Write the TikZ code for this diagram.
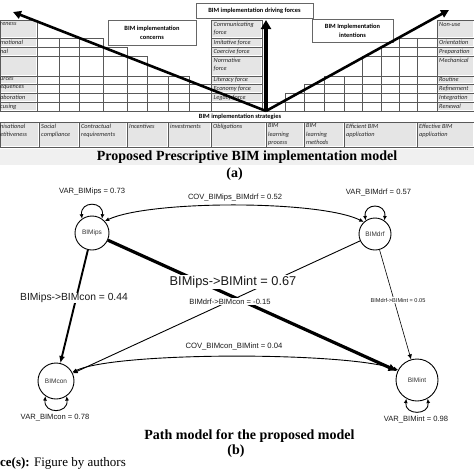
\documentclass[tikz,border=0pt]{standalone}
\usepackage{fontspec}
\setmainfont{Liberation Serif}
\newfontfamily\tabfont{Carlito}
\newfontfamily\pathfont{Liberation Sans}
\usetikzlibrary{arrows.meta}
\begin{document}
\begin{tikzpicture}[x=1pt,y=-1pt,
  gridline/.style={draw=black!65,line width=0.5pt},
  labelfill/.style={fill=black!10},
  celltext/.style={anchor=north west,inner sep=0pt,align=left,
    font=\tabfont\itshape\fontsize{6.3}{8.4}\selectfont,text=black!85},
  headbox/.style={draw=black!60,fill=white,line width=0.6pt,align=center,inner sep=1pt,
    font=\tabfont\bfseries\fontsize{6.4}{8.6}\selectfont},
  bigarrow/.style={line width=2.6pt,-{Triangle[length=8pt,width=8pt]}},
  caption/.style={font=\bfseries\fontsize{14}{16}\selectfont,inner sep=0pt},
  latent/.style={circle,draw,line width=0.9pt,inner sep=0pt,fill=white,
    font=\pathfont\fontsize{6.5}{7}\selectfont,text=black!80},
  plabel/.style={inner sep=0.6pt,text=black!90},
  tip/.style={-{Latex[length=5pt,width=4.5pt]}},
  dbltip/.style={{Latex[length=4.5pt,width=4pt]}-{Latex[length=4.5pt,width=4pt]}},
]
\useasboundingbox (0,0) rectangle (474,474);

% ---------- (a) prescriptive implementation model ----------
% label columns: concerns (left), driving forces (middle), intentions (right)
\foreach \xa/\xb in {0/37,437/474}{
  \foreach \ya/\yb in {20/38,38/47,47/56,56/76,76/84,84/93,93/102,102/111}{
    \fill[labelfill] (\xa+0.8,\ya+0.8) rectangle (\xb-0.8,\yb-0.8);
    \draw[gridline] (\xa,\ya) rectangle (\xb,\yb);
  }
}
\foreach \ya/\yb in {20/38,38/47,47/56,56/76,76/84,84/93,93/102}{
  \fill[labelfill] (211.8,\ya+0.8) rectangle (261.2,\yb-0.8);
  \draw[gridline] (211,\ya) rectangle (262,\yb);
}
\draw[gridline] (211,102) rectangle (262,111);

% staircase grid below the concerns arrow
\foreach \xa/\xb/\tp in {37/59/38,59/79/38,79/103/38,103/127/47,127/147/56,147/168/76,168/189/76,189/211/84}{
  \draw[gridline] (\xa,\tp) rectangle (\xb,111);
  \foreach \rw in {47,56,76,84,93,102}{
    \ifnum\rw>\tp \draw[gridline] (\xa,\rw) -- (\xb,\rw);\fi
  }
}
% staircase grid below the intentions arrow
\foreach \xa/\xb/\tp in {262/285/102,285/304/93,304/324/84,324/344/76,344/362/76,362/381/56,381/399/47,399/417/38,417/437/38}{
  \draw[gridline] (\xa,\tp) rectangle (\xb,111);
  \foreach \rw in {47,56,76,84,93,102}{
    \ifnum\rw>\tp \draw[gridline] (\xa,\rw) -- (\xb,\rw);\fi
  }
}

% concerns texts
\node[celltext] (c0) at (0,22) {reness};
\node[celltext] (c1) at (0,39.6) {motional};
\node[celltext] (c2) at (0,48.6) {nal};
\node[celltext] (c4) at (0,77.4) {urces};
\node[celltext] (c5) at (0,85.6) {equences};
\node[celltext] (c6) at (0,94.6) {aboration};
\node[celltext] (c7) at (0,103.6) {cusing};
% driving force texts
\node[celltext] (d0) at (213.5,21.5) {Communicating\\force};
\node[celltext] (d1) at (213.5,39.6) {Imitative force};
\node[celltext] (d2) at (213.5,48.6) {Coercive force};
\node[celltext] (d3) at (213.5,57.8) {Normative\\force};
\node[celltext] (d4) at (213.5,77.4) {Literacy force};
\node[celltext] (d5) at (213.5,85.6) {Economy force};
\node[celltext] (d6) at (213.5,94.6) {Legacy force};
% intention texts
\node[celltext] (i0) at (439,22) {Non-use};
\node[celltext] (i1) at (439,39.6) {Orientation};
\node[celltext] (i2) at (439,48.6) {Preparation};
\node[celltext] (i3) at (439,57.8) {Mechanical};
\node[celltext] (i4) at (439,77.4) {Routine};
\node[celltext] (i5) at (439,85.6) {Refinement};
\node[celltext] (i6) at (439,94.6) {Integration};
\node[celltext] (i7) at (439,103.6) {Renewal};

% strategies bar and cells
\draw[gridline] (0,111) -- (474,111);
\foreach \xa/\xb in {0/39,39/79,79/127,127/168,168/211,211/266,266/304,304/344,344/417,417/474}{
  \fill[labelfill] (\xa+0.8,122.8) rectangle (\xb-0.8,146.2);
  \draw[gridline] (\xa,122) rectangle (\xb,147);
}
\node[font=\tabfont\bfseries\fontsize{6.4}{7}\selectfont,inner sep=0pt] (strat) at (240,116.5) {BIM implementation strategies};
\node[celltext] (s1) at (0,123.5) {nisational\\etitiveness};
\node[celltext] (s2) at (41,123.5) {Social\\compliance};
\node[celltext] (s3) at (81,123.5) {Contractual\\requirements};
\node[celltext] (s4) at (129,123.5) {Incentives};
\node[celltext] (s5) at (170,123.5) {investments};
\node[celltext] (s6) at (213,123.5) {Obligations};
\node[celltext] (s7) at (268,123.5) {BIM\\learning\\process};
\node[celltext] (s8) at (306,123.5) {BIM\\learning\\methods};
\node[celltext] (s9) at (346,123.5) {Efficient BIM\\application};
\node[celltext] (s10) at (419,123.5) {Effective BIM\\application};

% header boxes
\node[headbox,minimum width=117pt,minimum height=15pt] (hdf) at (254.5,10.5) {BIM implementation driving forces};
\node[headbox,minimum width=88pt,minimum height=25pt] (hcon) at (152,32.5) {BIM implementation\\concerns};
\node[headbox,minimum width=81pt,minimum height=23pt] (hint) at (352.5,30.5) {BIM Implementation\\intentions};

% the three arrows from the strategies
\coordinate (vtx) at (266,111);
\coordinate (tipL) at (13,12);
\coordinate (tipR) at (449,10);
\coordinate (tipU) at (266,20);
\draw[bigarrow] (vtx) -- (tipL);
\draw[bigarrow] (vtx) -- (tipR);
\draw[bigarrow,line width=4.2pt,-{Triangle[length=9pt,width=10pt]}] (vtx) -- (tipU);

% caption (a)
\fill[black!6] (0,149) rectangle (474,165);
\node[caption] (capa) at (247,157) {Proposed Prescriptive BIM implementation model};
\node[caption] (laba) at (234.5,174) {(a)};

% ---------- (b) path model ----------
\node[latent,minimum size=34pt] (ips) at (92,233) {BIMips};
\node[latent,minimum size=32pt] (drf) at (375,234) {BIMdrf};
\node[latent,minimum size=36pt] (con) at (56,381) {BIMcon};
\node[latent,minimum size=42pt] (int) at (417,380) {BIMint};

% variances
\draw[dbltip,line width=0.9pt] (ips.125) .. controls +(-2,-18) and +(2,-18) .. (ips.55);
\draw[dbltip,line width=0.9pt] (drf.125) .. controls +(-2,-18) and +(2,-18) .. (drf.55);
\draw[dbltip,line width=0.9pt] (con.235) .. controls +(-2,18) and +(2,18) .. (con.305);
\draw[dbltip,line width=0.9pt] (int.240) .. controls +(-2,17) and +(2,17) .. (int.300);

% covariances
\draw[dbltip,line width=0.9pt] (ips.43) .. controls (150,200) and (320,200) .. (drf.133);
\draw[dbltip,line width=0.9pt] (con.28) .. controls (115,351.6) and (345,351.6) .. (int.152);

% regression paths
\draw[line width=3.2pt,-{Latex[length=9pt,width=8pt]}] (ips) -- (int);
\draw[line width=1.9pt,-{Latex[length=7pt,width=6pt]}] (ips) -- (con);
\draw[line width=0.9pt,tip] (drf) -- (con);
\draw[line width=0.6pt,tip] (drf) -- (int);

% labels
\node[plabel,font=\pathfont\fontsize{7.6}{8}\selectfont] (vips) at (92,192) {VAR\_BIMips = 0.73};
\node[plabel,font=\pathfont\fontsize{7.6}{8}\selectfont] (vdrf) at (378.5,192) {VAR\_BIMdrf = 0.57};
\node[plabel,font=\pathfont\fontsize{7.6}{8}\selectfont] (vcon) at (55,418) {VAR\_BIMcon = 0.78};
\node[plabel,font=\pathfont\fontsize{7.6}{8}\selectfont] (vint) at (416,419) {VAR\_BIMint = 0.98};
\node[plabel,font=\pathfont\fontsize{7.6}{8}\selectfont] (cid) at (235,198) {COV\_BIMips\_BIMdrf = 0.52};
\node[plabel,font=\pathfont\fontsize{7.7}{8}\selectfont] (cci) at (234,346) {COV\_BIMcon\_BIMint = 0.04};
\node[plabel,fill=white,font=\pathfont\fontsize{12.8}{14}\selectfont] (lii) at (233,282) {BIMips->BIMint = 0.67};
\node[plabel,fill=white,font=\pathfont\fontsize{7.6}{8}\selectfont] (ldc) at (230,301.5) {BIMdrf->BIMcon = -0.15};
\node[plabel,fill=white,font=\pathfont\fontsize{10.3}{11}\selectfont] (lic) at (74,298) {BIMips->BIMcon = 0.44};
\node[plabel,fill=white,font=\pathfont\fontsize{5.6}{6}\selectfont] (ldi) at (398,300) {BIMdrf->BIMint = 0.05};

% caption (b) and source
\node[caption] (capb) at (249.5,436) {Path model for the proposed model};
\node[caption] (labb) at (236,451) {(b)};
\node[anchor=west,inner sep=0pt,font=\fontsize{13}{15}\selectfont] (src) at (0,463) {\textbf{ce(s):} Figure by authors};
\end{tikzpicture}
\end{document}
